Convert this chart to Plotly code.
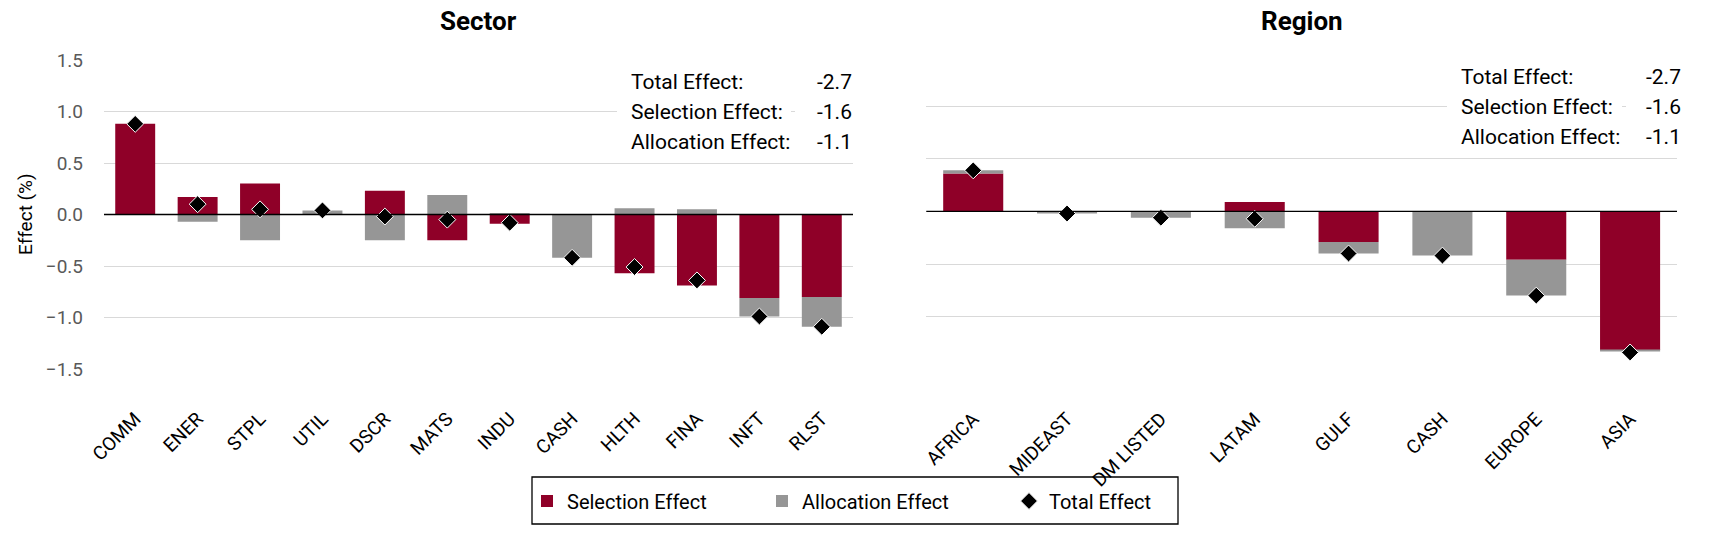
import plotly.graph_objects as go

W, H = 1710, 533

# ---------------- data ----------------
sector_cats = ["COMM", "ENER", "STPL", "UTIL", "DSCR", "MATS", "INDU", "CASH", "HLTH", "FINA", "INFT", "RLST"]
sector_selection = [0.88, 0.17, 0.30, 0.00, 0.23, -0.25, -0.09, 0.00, -0.57, -0.69, -0.81, -0.80]
sector_allocation = [0.00, -0.07, -0.25, 0.04, -0.25, 0.19, 0.01, -0.42, 0.06, 0.05, -0.18, -0.29]
sector_total = [0.88, 0.10, 0.05, 0.04, -0.02, -0.05, -0.08, -0.42, -0.51, -0.64, -0.99, -1.09]

region_cats = ["AFRICA", "MIDEAST", "DM LISTED", "LATAM", "GULF", "CASH", "EUROPE", "ASIA"]
region_selection = [0.36, 0.00, 0.00, 0.09, -0.29, 0.00, -0.46, -1.32]
region_allocation = [0.03, -0.02, -0.06, -0.16, -0.11, -0.42, -0.34, -0.01]
region_total = [0.39, -0.02, -0.06, -0.07, -0.40, -0.42, -0.80, -1.34]

summary_labels = ["Total Effect:", "Selection Effect:", "Allocation Effect:"]
sector_summary = ["-2.7", "-1.6", "-1.1"]
region_summary = ["-2.7", "-1.6", "-1.1"]

y_ticks = [1.5, 1.0, 0.5, 0.0, -0.5, -1.0, -1.5]

# ---------------- styles ----------------
SEL_COLOR = "#8f0028"
ALLOC_COLOR = "#969696"
GRID = "#d9d9d9"
FONT = "Roboto"


def px(x):
    return x / W


def py(y):
    return 1 - y / H


fig = go.Figure()

# Sector subplot
fig.add_trace(go.Bar(x=sector_cats, y=sector_selection, name="Selection Effect",
                     marker=dict(color=SEL_COLOR, line=dict(width=0)),
                     legend="legend", xaxis="x", yaxis="y"))
fig.add_trace(go.Bar(x=sector_cats, y=sector_allocation, name="Allocation Effect",
                     marker=dict(color=ALLOC_COLOR, line=dict(width=0)),
                     legend="legend2", xaxis="x", yaxis="y"))
fig.add_trace(go.Scatter(x=sector_cats, y=sector_total, name="Total Effect", mode="markers",
                         marker=dict(symbol="diamond", size=13, color="black",
                                     line=dict(color="white", width=1)),
                         legend="legend3", xaxis="x", yaxis="y"))

# Region subplot
fig.add_trace(go.Bar(x=region_cats, y=region_selection, name="Selection Effect",
                     marker=dict(color=SEL_COLOR, line=dict(width=0)),
                     showlegend=False, xaxis="x2", yaxis="y2"))
fig.add_trace(go.Bar(x=region_cats, y=region_allocation, name="Allocation Effect",
                     marker=dict(color=ALLOC_COLOR, line=dict(width=0)),
                     showlegend=False, xaxis="x2", yaxis="y2"))
fig.add_trace(go.Scatter(x=region_cats, y=region_total, name="Total Effect", mode="markers",
                         marker=dict(symbol="diamond", size=13, color="black",
                                     line=dict(color="white", width=1)),
                         showlegend=False, xaxis="x2", yaxis="y2"))

xaxis_common = dict(type="category", showgrid=False, zeroline=False, showline=False,
                    ticks="", tickangle=-45, ticklabelstandoff=34, automargin=False,
                    tickfont=dict(family=FONT, size=19, color="black"))
yaxis_common = dict(range=[-1.5, 1.5], tickvals=y_ticks, tickformat=".1f",
                    showgrid=True, gridcolor=GRID, gridwidth=1, automargin=False,
                    zeroline=False, showline=False, ticks="",
                    tickfont=dict(family=FONT, size=19, color="#595959"))

legend_common = dict(orientation="h", yanchor="middle", xanchor="left",
                     bgcolor="rgba(0,0,0,0)", borderwidth=0,
                     font=dict(family=FONT, size=20, color="black"))

fig.update_layout(
    width=W, height=H,
    margin=dict(l=0, r=0, t=0, b=0, autoexpand=False),
    paper_bgcolor="white", plot_bgcolor="white",
    barmode="relative", bargap=0.36,
    font=dict(family=FONT, color="black"),
    xaxis=dict(domain=[px(104), px(853)], anchor="y",
               range=[-0.5, len(sector_cats) - 0.5], **xaxis_common),
    yaxis=dict(domain=[py(369), py(60)], anchor="x", ticklabelstandoff=20, **yaxis_common),
    xaxis2=dict(domain=[px(926.3), px(1677)], anchor="y2",
                range=[-0.5, len(region_cats) - 0.5], **xaxis_common),
    yaxis2=dict(domain=[py(369.3), py(53.5)], anchor="x2", showticklabels=False, **yaxis_common),
    legend=dict(x=px(527), y=py(501), **legend_common),
    legend2=dict(x=px(762), y=py(501), **legend_common),
    legend3=dict(x=px(1009), y=py(501), **legend_common),
    showlegend=True,
)

shapes = []
annotations = []

# legend frame
shapes.append(dict(type="rect", xref="paper", yref="paper",
                   x0=px(532), x1=px(1178), y0=py(524), y1=py(477),
                   fillcolor="white", line=dict(color="black", width=1.3), layer="below"))

# zero lines above bars
for xr, yr in (("x domain", "y"), ("x2 domain", "y2")):
    shapes.append(dict(type="line", xref=xr, yref=yr, x0=0, x1=1, y0=0, y1=0,
                       line=dict(color="black", width=1.3), layer="above"))

# white boxes behind the summary text
boxes = [(617, 791, 66, 157), (795, 855, 66, 157), (1447, 1622, 59, 151), (1626, 1684, 59, 151)]
for x0, x1, y0, y1 in boxes:
    shapes.append(dict(type="rect", xref="paper", yref="paper",
                       x0=px(x0), x1=px(x1), y0=py(y1), y1=py(y0),
                       fillcolor="white", line=dict(width=0), layer="above"))

# summary text
rows_left = [81.7, 112.3, 142.3]
rows_right = [76.7, 106.7, 136.7]
for lab, val, yy in zip(summary_labels, sector_summary, rows_left):
    annotations.append(dict(text=lab, x=px(629), y=py(yy), xref="paper", yref="paper",
                            xanchor="left", yanchor="middle", showarrow=False,
                            font=dict(family=FONT, size=21, color="black")))
    annotations.append(dict(text=val, x=px(854), y=py(yy), xref="paper", yref="paper",
                            xanchor="right", yanchor="middle", showarrow=False,
                            font=dict(family=FONT, size=21, color="black")))
for lab, val, yy in zip(summary_labels, region_summary, rows_right):
    annotations.append(dict(text=lab, x=px(1459), y=py(yy), xref="paper", yref="paper",
                            xanchor="left", yanchor="middle", showarrow=False,
                            font=dict(family=FONT, size=21, color="black")))
    annotations.append(dict(text=val, x=px(1683), y=py(yy), xref="paper", yref="paper",
                            xanchor="right", yanchor="middle", showarrow=False,
                            font=dict(family=FONT, size=21, color="black")))

# subplot titles
annotations.append(dict(text="<b>Sector</b>", x=px(478.5), y=py(21), xref="paper", yref="paper",
                        xanchor="center", yanchor="middle", showarrow=False,
                        font=dict(family=FONT, size=26, color="black")))
annotations.append(dict(text="<b>Region</b>", x=px(1301.5), y=py(21), xref="paper", yref="paper",
                        xanchor="center", yanchor="middle", showarrow=False,
                        font=dict(family=FONT, size=26, color="black")))

# y-axis title
annotations.append(dict(text="Effect (%)", x=px(25), y=py(214), xref="paper", yref="paper",
                        xanchor="center", yanchor="middle", textangle=-90, showarrow=False,
                        font=dict(family=FONT, size=19, color="black")))

fig.update_layout(shapes=shapes, annotations=annotations)

fig.write_html("out.html", config={"displayModeBar": False},
               post_script="document.body.style.margin='0';")
